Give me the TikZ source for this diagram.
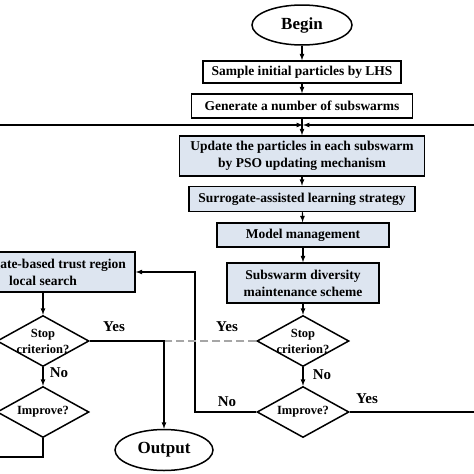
\documentclass[tikz,border=0pt]{standalone}
\usepackage{fontspec}
\setmainfont{Liberation Serif}
\usepackage{tikz}
\usetikzlibrary{shapes}
\usetikzlibrary{arrows,positioning,calc}
\definecolor{lightblue}{RGB}{221,229,240}
\definecolor{dashgray}{RGB}{166,166,166}
\tikzstyle{Tstate}=[shape=ellipse,draw=black,line width=1.5pt,minimum width=100pt,minimum height=40pt,inner sep=0pt,font=\fontsize{17}{19}\selectfont\bfseries]
\tikzstyle{Wbox}=[shape=rectangle,draw=black,line width=1.5pt,fill=white,inner sep=0pt,font=\fontsize{13.5}{17}\selectfont\bfseries,align=center]
\tikzstyle{Bbox}=[Wbox,fill=lightblue]
\tikzstyle{Qstate}=[shape=diamond,draw=black,line width=1.5pt,fill=white,minimum width=92pt,minimum height=51pt,inner sep=-7pt,aspect=1.8,font=\fontsize{12.5}{16}\selectfont\bfseries,align=center]
\tikzstyle{flowedge}=[->,line width=1.2pt]
\tikzstyle{plainedge}=[line width=1.2pt]
\tikzstyle{answer}=[font=\fontsize{15}{17}\selectfont\bfseries]

\begin{document}
\begin{tikzpicture}[x=1pt,y=-1pt,>=latex]
 \useasboundingbox (0,0) rectangle (474,474);
 \clip (0,0) rectangle (474,474);

 % main column
 \node[Tstate] (BEGIN) at (302,25) {Begin};
 \node[Wbox,minimum width=198pt,minimum height=22pt] (sample) at (302,72) {Sample initial particles by LHS};
 \node[Wbox,minimum width=221pt,minimum height=24pt] (gen) at (302,106) {Generate a number of subswarms};
 \node[Bbox,minimum width=245pt,minimum height=40pt] (upd) at (302,156) {Update the particles in each subswarm\\by PSO updating mechanism};
 \node[Bbox,minimum width=226pt,minimum height=25pt] (sal) at (302,199) {Surrogate-assisted learning strategy};
 \node[Bbox,minimum width=172pt,minimum height=24pt] (mm) at (303,235) {Model management};
 \node[Bbox,minimum width=152pt,minimum height=40pt] (div) at (303,283) {Subswarm diversity\\maintenance scheme};
 \node[Qstate] (stop2) at (303,341) {Stop\\criterion?};
 \node[Qstate] (imp2) at (303,412) {Improve?};

 % local search column
 \node[Bbox,minimum width=184pt,minimum height=40pt] (ls) at (43,272) {Surrogate-based trust region\\local search};
 \node[Qstate] (stop1) at (43,341) {Stop\\criterion?};
 \node[Qstate] (imp1) at (43,412) {Improve?};
 \node[Tstate,minimum width=98pt,minimum height=41pt] (OUT) at (164,450) {Output};

 \coordinate (linL) at (-10,125);
 \coordinate (linR) at (484,125);
 \coordinate (junc) at (303,125);
 \coordinate (fb) at (195,272);
 \coordinate (ydrop) at (164,341);
 \coordinate (outR) at (484,412);
 \coordinate (outL) at (-10,457);

 \node[answer] (yes1) at (114,327) {Yes};
 \node[answer] (no1) at (59,373) {No};
 \node[answer] (yes2) at (227,327) {Yes};
 \node[answer] (no2) at (322,375) {No};
 \node[answer] (no3) at (227,402) {No};
 \node[answer] (yes3) at (367,399) {Yes};

\path
(BEGIN) edge [flowedge] (sample)
(sample) edge [flowedge] (gen)
(gen) edge [flowedge] (upd)
(upd) edge [flowedge] (sal)
(sal) edge [flowedge] (mm)
(mm) edge [flowedge] (div)
(div) edge [flowedge] (stop2)
(stop2) edge [flowedge] (imp2)
(ls) edge [flowedge] (stop1)
(stop1) edge [flowedge] (imp1)
(linL) edge [flowedge] (junc)
(linR) edge [flowedge] (junc)
(imp2) edge [plainedge] (outR);

\draw[flowedge] (imp2.west) -| (fb) -- (ls.east);
\draw[dashgray,line width=1.8pt,dash pattern=on 8pt off 4pt] (stop2.west) -- (ydrop);
\draw[flowedge] (stop1.east) -- (ydrop) -- (OUT.north);
\draw[plainedge] (imp1.south) |- (outL);

\end{tikzpicture}
\end{document}
